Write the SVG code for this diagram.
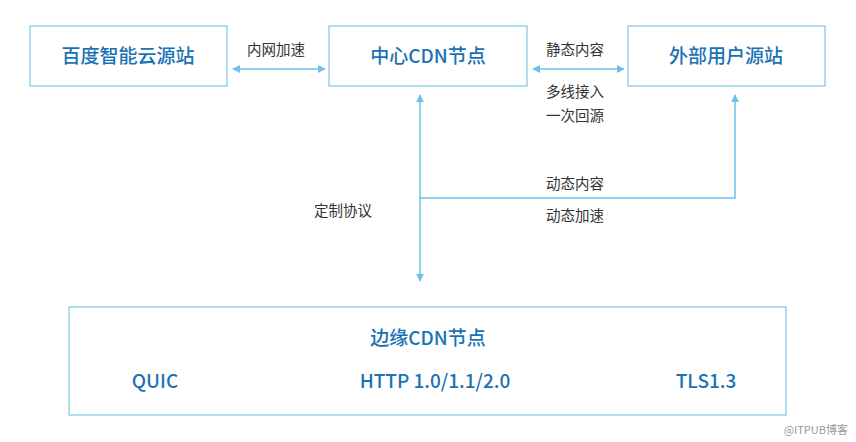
<svg xmlns="http://www.w3.org/2000/svg" width="856" height="442" viewBox="0 0 856 442">
<style>
.b{fill:#fff;stroke:#7cc4e8;stroke-width:1.2}
.t{font-family:"Noto Sans CJK SC","Noto Sans",sans-serif;font-size:19px;fill:#1a72b4;font-weight:500;text-anchor:middle}
.l{font-family:"Noto Sans CJK SC",sans-serif;font-size:14.5px;fill:#333}
.c{stroke:#6cc0ea;stroke-width:1.5;fill:none}
</style>
<defs><marker id="a" viewBox="0 0 10 10" refX="9" refY="5" markerWidth="8" markerHeight="8" orient="auto-start-reverse" markerUnits="userSpaceOnUse"><path d="M0,0L10,5L0,10z" fill="#6cc0ea"/></marker></defs>
<rect width="856" height="442" fill="#fff"/>
<g id="n1"><rect class="b" x="30" y="26" width="197" height="60"/><text class="t" x="128" y="63">百度智能云源站</text></g>
<g id="n2"><rect class="b" x="329" y="26" width="198" height="60"/><text class="t" x="428" y="63">中心CDN节点</text></g>
<g id="n3"><rect class="b" x="628" y="26" width="197" height="60"/><text class="t" x="726" y="63">外部用户源站</text></g>
<g id="n4"><rect class="b" x="69" y="307" width="717" height="108"/><text class="t" x="428" y="345">边缘CDN节点</text>
<text class="t" x="155" y="388">QUIC</text><text class="t" x="435" y="388">HTTP 1.0/1.1/2.0</text><text class="t" x="706" y="388">TLS1.3</text></g>
<g id="conn">
<line class="c" x1="233" y1="69" x2="325" y2="69" marker-start="url(#a)" marker-end="url(#a)"/>
<line class="c" x1="533" y1="69" x2="624" y2="69" marker-start="url(#a)" marker-end="url(#a)"/>
<line class="c" x1="420" y1="95" x2="420" y2="281" marker-start="url(#a)" marker-end="url(#a)"/>
<polyline class="c" points="420,198 735,198 735,95" marker-end="url(#a)"/>
</g>
<g class="l">
<text x="247" y="55">内网加速</text>
<text x="546" y="55">静态内容</text>
<text x="546" y="97">多线接入</text>
<text x="546" y="121">一次回源</text>
<text x="546" y="189">动态内容</text>
<text x="546" y="221">动态加速</text>
<text x="314" y="216">定制协议</text>
</g>
<text x="848" y="434" font-family="Noto Sans CJK SC,sans-serif" font-size="11" fill="#999" text-anchor="end">@ITPUB博客</text>
</svg>
